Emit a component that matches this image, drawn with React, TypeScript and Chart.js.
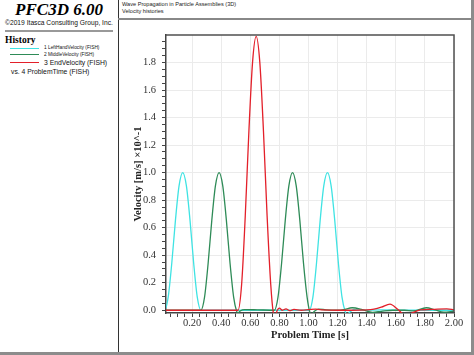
import React, { useEffect, useRef } from "react";
import { Chart, registerables } from "chart.js";

Chart.register(...registerables);

// ---- data ----
const cyanTime = [0, 0.01, 0.035, 0.06, 0.085, 0.11, 0.135, 0.16, 0.185, 0.21, 0.235, 0.26, 0.5, 0.75, 1.005, 1.03, 1.055, 1.08, 1.105, 1.13, 1.155, 1.18, 1.205, 1.23, 1.252, 1.265, 1.285, 1.31, 1.36, 1.5, 1.7, 2.0];
const cyanVel = [0, 0, 0.095, 0.345, 0.655, 0.905, 1.0, 0.905, 0.655, 0.345, 0.095, 0, 0, 0, 0, 0.095, 0.345, 0.655, 0.905, 1.0, 0.905, 0.655, 0.345, 0.095, -0.01, -0.03, -0.012, 0.004, 0.0, 0.002, 0.0, 0.0];

const greenTime = [0, 0.26, 0.285, 0.31, 0.335, 0.36, 0.385, 0.41, 0.435, 0.46, 0.485, 0.505, 0.515, 0.53, 0.56, 0.65, 0.765, 0.79, 0.815, 0.84, 0.865, 0.89, 0.915, 0.94, 0.965, 0.99, 1.008, 1.022, 1.04, 1.07, 1.12, 1.2, 1.24, 1.3, 1.37, 1.44, 1.5, 1.58, 1.66, 1.72, 1.81, 1.87, 1.93, 2.0];
const greenVel = [0, 0, 0.095, 0.345, 0.655, 0.905, 1.0, 0.905, 0.655, 0.345, 0.095, -0.005, -0.02, -0.005, 0.005, 0.003, 0, 0.095, 0.345, 0.655, 0.905, 1.0, 0.905, 0.655, 0.345, 0.095, -0.01, -0.03, -0.008, 0.008, 0.003, 0.0, 0.004, 0.018, 0.005, -0.015, -0.008, 0.0, 0.0, -0.005, 0.018, 0.003, -0.014, -0.006];

const redTime = [0, 0.515, 0.54, 0.565, 0.59, 0.615, 0.64, 0.665, 0.69, 0.715, 0.74, 0.758, 0.77, 0.785, 0.8, 0.82, 0.845, 0.87, 0.9, 0.95, 1.0, 1.05, 1.1, 1.2, 1.3, 1.4, 1.45, 1.5, 1.56, 1.615, 1.67, 1.72, 1.77, 1.85, 1.95, 2.0];
const redVel = [0, 0, 0.189, 0.687, 1.303, 1.801, 1.99, 1.801, 1.303, 0.687, 0.189, -0.02, -0.045, 0.0, 0.015, 0.0, 0.01, -0.003, 0.006, 0.0, 0.004, 0.008, 0.002, 0.0, 0.0, 0.002, 0.008, 0.022, 0.045, 0.005, -0.04, -0.015, 0.002, 0.006, 0.01, 0.004];

const xMajorLabels = ["0.20", "0.40", "0.60", "0.80", "1.00", "1.20", "1.40", "1.60", "1.80", "2.00"];
const yMajorLabels = ["0.0", "0.2", "0.4", "0.6", "0.8", "1.0", "1.2", "1.4", "1.6", "1.8"];

const legendEntries = ["1 LeftHandVelocity (FISH)", "2 MiddleVelocity (FISH)", "3 EndVelocity (FISH)"];
const seriesColors = ["#3fe3e3", "#2e8b57", "#e3202a"];

const SERIF = "'Liberation Serif', 'Times New Roman', serif";
const SANS = "'Liberation Sans', Arial, sans-serif";

export default function App() {
  const ref = useRef<HTMLCanvasElement>(null);

  useEffect(() => {
    if (!ref.current) return;
    const toPts = (t: number[], v: number[]) => t.map((x, i) => ({ x, y: v[i] }));
    const xMajor = xMajorLabels.map(Number);
    const yMajor = yMajorLabels.map(Number);
    const xTicks: number[] = [];
    for (let i = 1; i <= 40; i++) xTicks.push(+(i * 0.05).toFixed(2));
    const yTicks: number[] = [];
    for (let i = 0; i <= 39; i++) yTicks.push(+(i * 0.05).toFixed(2));
    const majIdx = (v: number, list: number[]) => list.findIndex((m) => Math.abs(m - v) < 1e-6);

    const frame = {
      id: "frame",
      afterDatasetsDraw(chart: any) {
        const { ctx, chartArea } = chart;
        ctx.save();
        ctx.strokeStyle = "#505050";
        ctx.lineWidth = 1.5;
        ctx.beginPath();
        ctx.moveTo(chartArea.left, chartArea.top);
        ctx.lineTo(chartArea.right, chartArea.top);
        ctx.lineTo(chartArea.right, chartArea.bottom);
        ctx.stroke();
        ctx.restore();
      },
    };

    const tickFont = { family: SERIF, size: 10.5 };
    const titleFont = { family: SERIF, size: 10.5, weight: "bold" as const };

    const chart = new Chart(ref.current, {
      type: "line",
      data: {
        datasets: [
          { label: legendEntries[0], data: toPts(cyanTime, cyanVel), borderColor: seriesColors[0], order: 3 },
          { label: legendEntries[1], data: toPts(greenTime, greenVel), borderColor: seriesColors[1], order: 2 },
          { label: legendEntries[2], data: toPts(redTime, redVel), borderColor: seriesColors[2], order: 1 },
        ],
      },
      options: {
        animation: false,
        responsive: false,
        events: [],
        layout: { padding: { top: 15, right: 16, left: 0, bottom: 0 } },
        elements: {
          point: { radius: 0 },
          line: { borderWidth: 1.3, cubicInterpolationMode: "monotone", fill: false },
        },
        plugins: { legend: { display: false }, tooltip: { enabled: false } },
        scales: {
          x: {
            type: "linear",
            min: 0.02,
            max: 2.0,
            afterBuildTicks: (s: any) => {
              s.ticks = xTicks.map((v) => ({ value: v }));
            },
            afterFit: (s: any) => {
              s.height = 33;
            },
            ticks: {
              autoSkip: false,
              maxRotation: 0,
              minRotation: 0,
              padding: 0,
              color: "#333",
              font: tickFont,
              callback: (v: any) => {
                const i = majIdx(Number(v), xMajor);
                return i >= 0 ? xMajorLabels[i] : "";
              },
            },
            grid: {
              color: (c: any) => (c.tick && majIdx(c.tick.value, xMajor) >= 0 ? "#ebebeb" : "rgba(0,0,0,0)"),
              tickColor: "#444",
              tickLength: 4,
              lineWidth: 1,
            },
            border: { color: "#444", width: 1.5 },
            title: { display: true, text: "Problem Time [s]", font: titleFont, color: "#222", padding: 4 },
          },
          y: {
            type: "linear",
            min: -0.02,
            max: 2.0,
            afterBuildTicks: (s: any) => {
              s.ticks = yTicks.map((v) => ({ value: v }));
            },
            afterFit: (s: any) => {
              s.width = 38;
            },
            ticks: {
              autoSkip: false,
              padding: 6,
              color: "#333",
              font: tickFont,
              callback: (v: any) => {
                const i = majIdx(Number(v), yMajor);
                return i >= 0 ? yMajorLabels[i] : "";
              },
            },
            grid: {
              color: (c: any) => (c.tick && majIdx(c.tick.value, yMajor) > 0 ? "#ebebeb" : "rgba(0,0,0,0)"),
              tickColor: "#444",
              tickLength: 4,
              lineWidth: 1,
            },
            border: { color: "#444", width: 1.5 },
            title: { display: true, text: "Velocity [m/s] ×10^-1", font: titleFont, color: "#222", padding: 4 },
          },
        },
      },
      plugins: [frame],
    });
    return () => chart.destroy();
  }, []);

  const abs = (s: React.CSSProperties): React.CSSProperties => ({ position: "absolute", margin: 0, whiteSpace: "nowrap", ...s });

  return (
    <div style={{ position: "fixed", left: 0, top: 0, width: 474, height: 355, background: "#fff", overflow: "hidden" }}>
      {/* left panel */}
      <div style={abs({ left: 0, top: 1, width: 118, textAlign: "center", font: `italic bold 17px ${SERIF}`, lineHeight: "17px", color: "#000" })}>PFC3D 6.00</div>
      <div style={abs({ left: 5, top: 19, font: `6.7px ${SANS}`, lineHeight: "8px", color: "#111" })}>©2019 Itasca Consulting Group, Inc.</div>
      <div style={abs({ left: 5, top: 30, width: 108, height: 2, background: "#999" })} />
      <div style={abs({ left: 5, top: 35, font: `bold 9.5px ${SERIF}`, lineHeight: "10px", color: "#000" })}>History</div>

      <div style={abs({ left: 10, top: 47.5, width: 29, height: 1.5, background: seriesColors[0] })} />
      <div style={abs({ left: 44, top: 45, font: `4.8px ${SANS}`, lineHeight: "6px", color: "#111" })}>{legendEntries[0]}</div>
      <div style={abs({ left: 10, top: 53.5, width: 29, height: 1.5, background: seriesColors[1] })} />
      <div style={abs({ left: 44, top: 51.5, font: `4.8px ${SANS}`, lineHeight: "6px", color: "#111" })}>{legendEntries[1]}</div>
      <div style={abs({ left: 10, top: 61.5, width: 29, height: 1.5, background: seriesColors[2] })} />
      <div style={abs({ left: 44, top: 58.5, font: `6.8px ${SANS}`, lineHeight: "8px", color: "#111" })}>{legendEntries[2]}</div>
      <div style={abs({ left: 11, top: 67.5, font: `6.8px ${SANS}`, lineHeight: "8px", color: "#111" })}>vs. 4 ProblemTime (FISH)</div>

      {/* separators & borders */}
      <div style={abs({ left: 118, top: 0, width: 1, height: 352, background: "#333" })} />
      <div style={abs({ left: 118, top: 18, width: 354, height: 2, background: "#888" })} />
      <div style={abs({ left: 471, top: 0, width: 3, height: 355, background: "#8c8c8c" })} />
      <div style={abs({ left: 0, top: 352, width: 474, height: 3, background: "#8c8c8c" })} />

      {/* header */}
      <div style={abs({ left: 122, top: 0.5, font: `5.6px ${SANS}`, lineHeight: "7.5px", color: "#222" })}>
        Wave Propagation in Particle Assemblies (3D)
        <br />
        Velocity histories
      </div>

      <canvas ref={ref} width={342} height={326} style={{ position: "absolute", left: 128, top: 20, width: 342, height: 326, display: "block" }} />
    </div>
  );
}
